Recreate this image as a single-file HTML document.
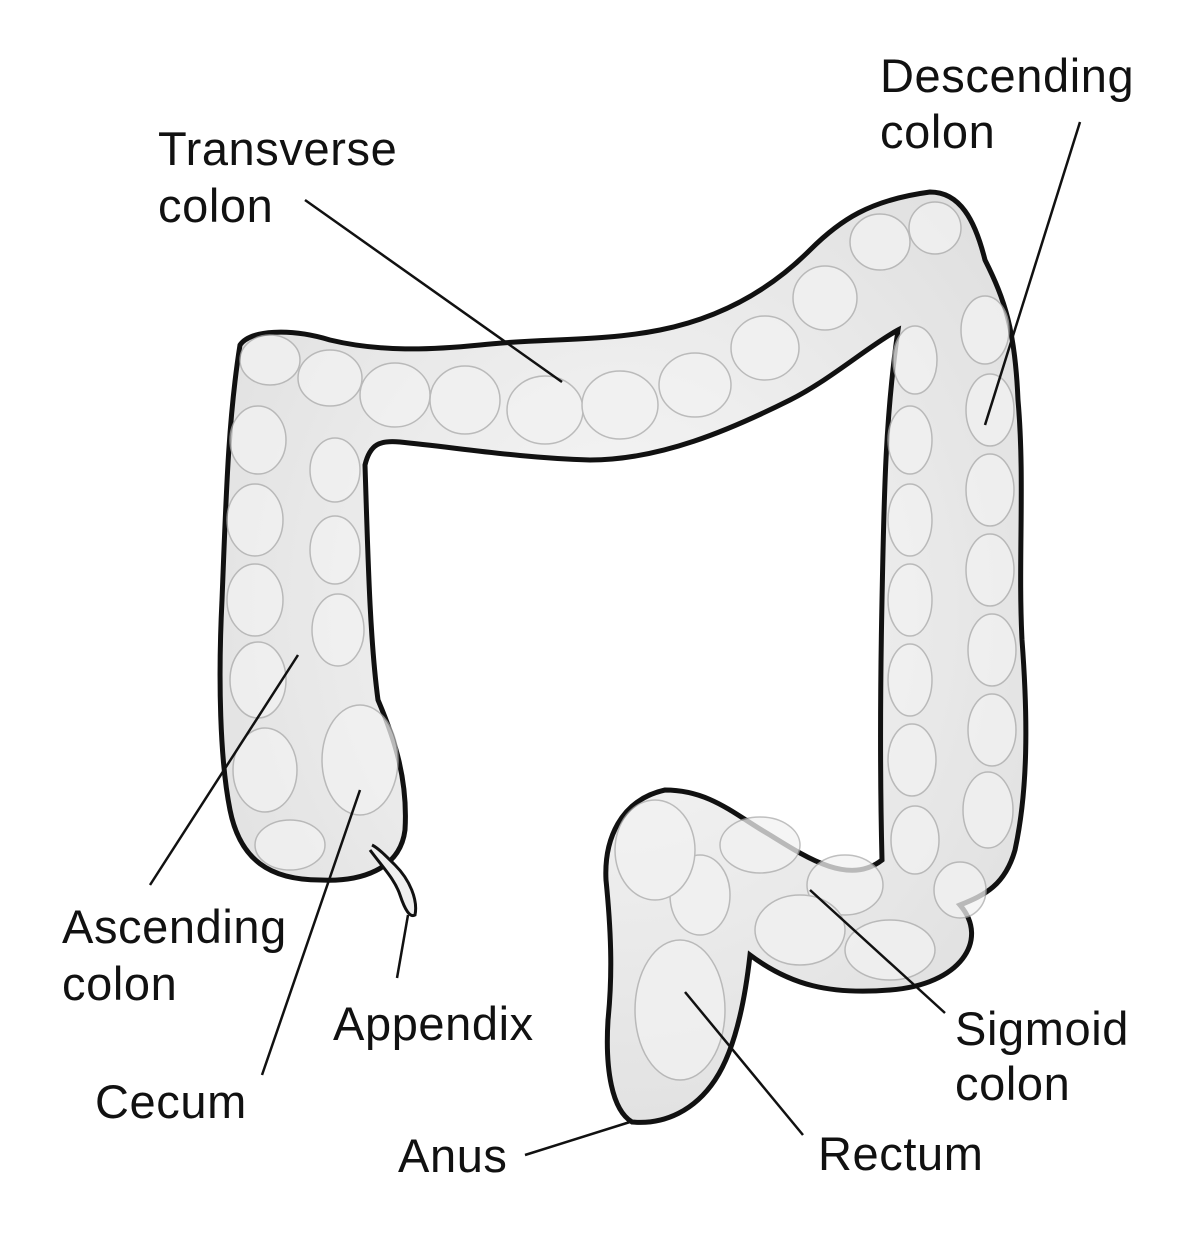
<!DOCTYPE html>
<html><head><meta charset="utf-8"><style>
html,body{margin:0;padding:0;background:#fff;}
svg{display:block;}
text{font-family:"Liberation Sans",Arial,sans-serif;font-size:47px;letter-spacing:0.6px;fill:#111;}
</style></head><body>
<svg width="1192" height="1236" viewBox="0 0 1192 1236" xmlns="http://www.w3.org/2000/svg">
<defs>
<radialGradient id="g" cx="50%" cy="45%" r="60%">
<stop offset="0" stop-color="#f8f8f8"/><stop offset="1" stop-color="#e0e0e0"/>
</radialGradient>
</defs>
<path d="M240,345 C250,330 290,328 330,340 C380,352 430,350 480,345 C540,338 600,342 660,330 C720,318 770,290 810,250 C840,220 870,200 930,192 C960,192 975,220 985,260 C1005,300 1015,330 1018,400 C1025,480 1018,560 1022,640 C1028,720 1028,790 1015,850 C1005,885 985,895 960,905 C990,940 960,985 890,990 C830,995 790,985 750,955 C745,1000 735,1050 715,1080 C695,1110 665,1125 632,1122 C612,1110 605,1070 608,1020 C612,980 612,940 606,880 C604,840 620,800 665,790 C710,790 735,815 770,835 C810,860 850,885 882,860 C880,780 880,700 882,600 C884,500 885,420 898,330 C870,345 830,380 790,400 C730,430 660,460 590,460 C520,458 460,448 400,442 C380,440 370,444 365,465 C368,560 370,640 378,700 C395,740 408,780 405,830 C400,870 360,882 320,880 C270,880 240,860 230,810 C220,760 218,680 222,600 C226,500 228,420 240,345 Z" fill="url(#g)" stroke="#111" stroke-width="5"/>
<g fill="#f2f2f2" stroke="#aaaaaa" stroke-width="1.5" opacity="0.75">
<ellipse cx="270" cy="360" rx="30" ry="25"/><ellipse cx="330" cy="378" rx="32" ry="28"/><ellipse cx="395" cy="395" rx="35" ry="32"/>
<ellipse cx="465" cy="400" rx="35" ry="34"/><ellipse cx="545" cy="410" rx="38" ry="34"/><ellipse cx="620" cy="405" rx="38" ry="34"/>
<ellipse cx="695" cy="385" rx="36" ry="32"/><ellipse cx="765" cy="348" rx="34" ry="32"/><ellipse cx="825" cy="298" rx="32" ry="32"/>
<ellipse cx="880" cy="242" rx="30" ry="28"/><ellipse cx="935" cy="228" rx="26" ry="26"/>
<ellipse cx="258" cy="440" rx="28" ry="34"/><ellipse cx="255" cy="520" rx="28" ry="36"/><ellipse cx="255" cy="600" rx="28" ry="36"/>
<ellipse cx="258" cy="680" rx="28" ry="38"/><ellipse cx="265" cy="770" rx="32" ry="42"/><ellipse cx="290" cy="845" rx="35" ry="25"/>
<ellipse cx="335" cy="470" rx="25" ry="32"/><ellipse cx="335" cy="550" rx="25" ry="34"/><ellipse cx="338" cy="630" rx="26" ry="36"/>
<ellipse cx="360" cy="760" rx="38" ry="55"/>
<ellipse cx="915" cy="360" rx="22" ry="34"/><ellipse cx="910" cy="440" rx="22" ry="34"/><ellipse cx="910" cy="520" rx="22" ry="36"/>
<ellipse cx="910" cy="600" rx="22" ry="36"/><ellipse cx="910" cy="680" rx="22" ry="36"/><ellipse cx="912" cy="760" rx="24" ry="36"/><ellipse cx="915" cy="840" rx="24" ry="34"/>
<ellipse cx="985" cy="330" rx="24" ry="34"/><ellipse cx="990" cy="410" rx="24" ry="36"/><ellipse cx="990" cy="490" rx="24" ry="36"/>
<ellipse cx="990" cy="570" rx="24" ry="36"/><ellipse cx="992" cy="650" rx="24" ry="36"/><ellipse cx="992" cy="730" rx="24" ry="36"/><ellipse cx="988" cy="810" rx="25" ry="38"/><ellipse cx="960" cy="890" rx="26" ry="28"/>
<ellipse cx="760" cy="845" rx="40" ry="28"/><ellipse cx="845" cy="885" rx="38" ry="30"/><ellipse cx="800" cy="930" rx="45" ry="35"/><ellipse cx="890" cy="950" rx="45" ry="30"/>
<ellipse cx="700" cy="895" rx="30" ry="40"/><ellipse cx="680" cy="1010" rx="45" ry="70"/><ellipse cx="655" cy="850" rx="40" ry="50"/>
</g>
<path d="M370,850 C385,870 395,880 400,895 C405,910 410,918 415,915 C418,900 410,880 395,865 C385,855 378,848 372,845" fill="#eee" stroke="#111" stroke-width="3"/>
<g stroke="#111" stroke-width="2.5" fill="none">
<line x1="305" y1="200" x2="562" y2="382"/>
<line x1="1080" y1="122" x2="985" y2="425"/>
<line x1="150" y1="885" x2="298" y2="655"/>
<line x1="262" y1="1075" x2="360" y2="790"/>
<line x1="397" y1="978" x2="408" y2="915"/>
<line x1="525" y1="1155" x2="630" y2="1122"/>
<line x1="803" y1="1135" x2="685" y2="992"/>
<line x1="945" y1="1013" x2="810" y2="890"/>
</g>
<text x="158" y="165">Transverse</text><text x="158" y="222">colon</text>
<text x="880" y="92">Descending</text><text x="880" y="148">colon</text>
<text x="62" y="943">Ascending</text><text x="62" y="1000">colon</text>
<text x="333" y="1040">Appendix</text>
<text x="95" y="1118">Cecum</text>
<text x="398" y="1172">Anus</text>
<text x="818" y="1170">Rectum</text>
<text x="955" y="1045">Sigmoid</text><text x="955" y="1100">colon</text>
</svg>
</body></html>
